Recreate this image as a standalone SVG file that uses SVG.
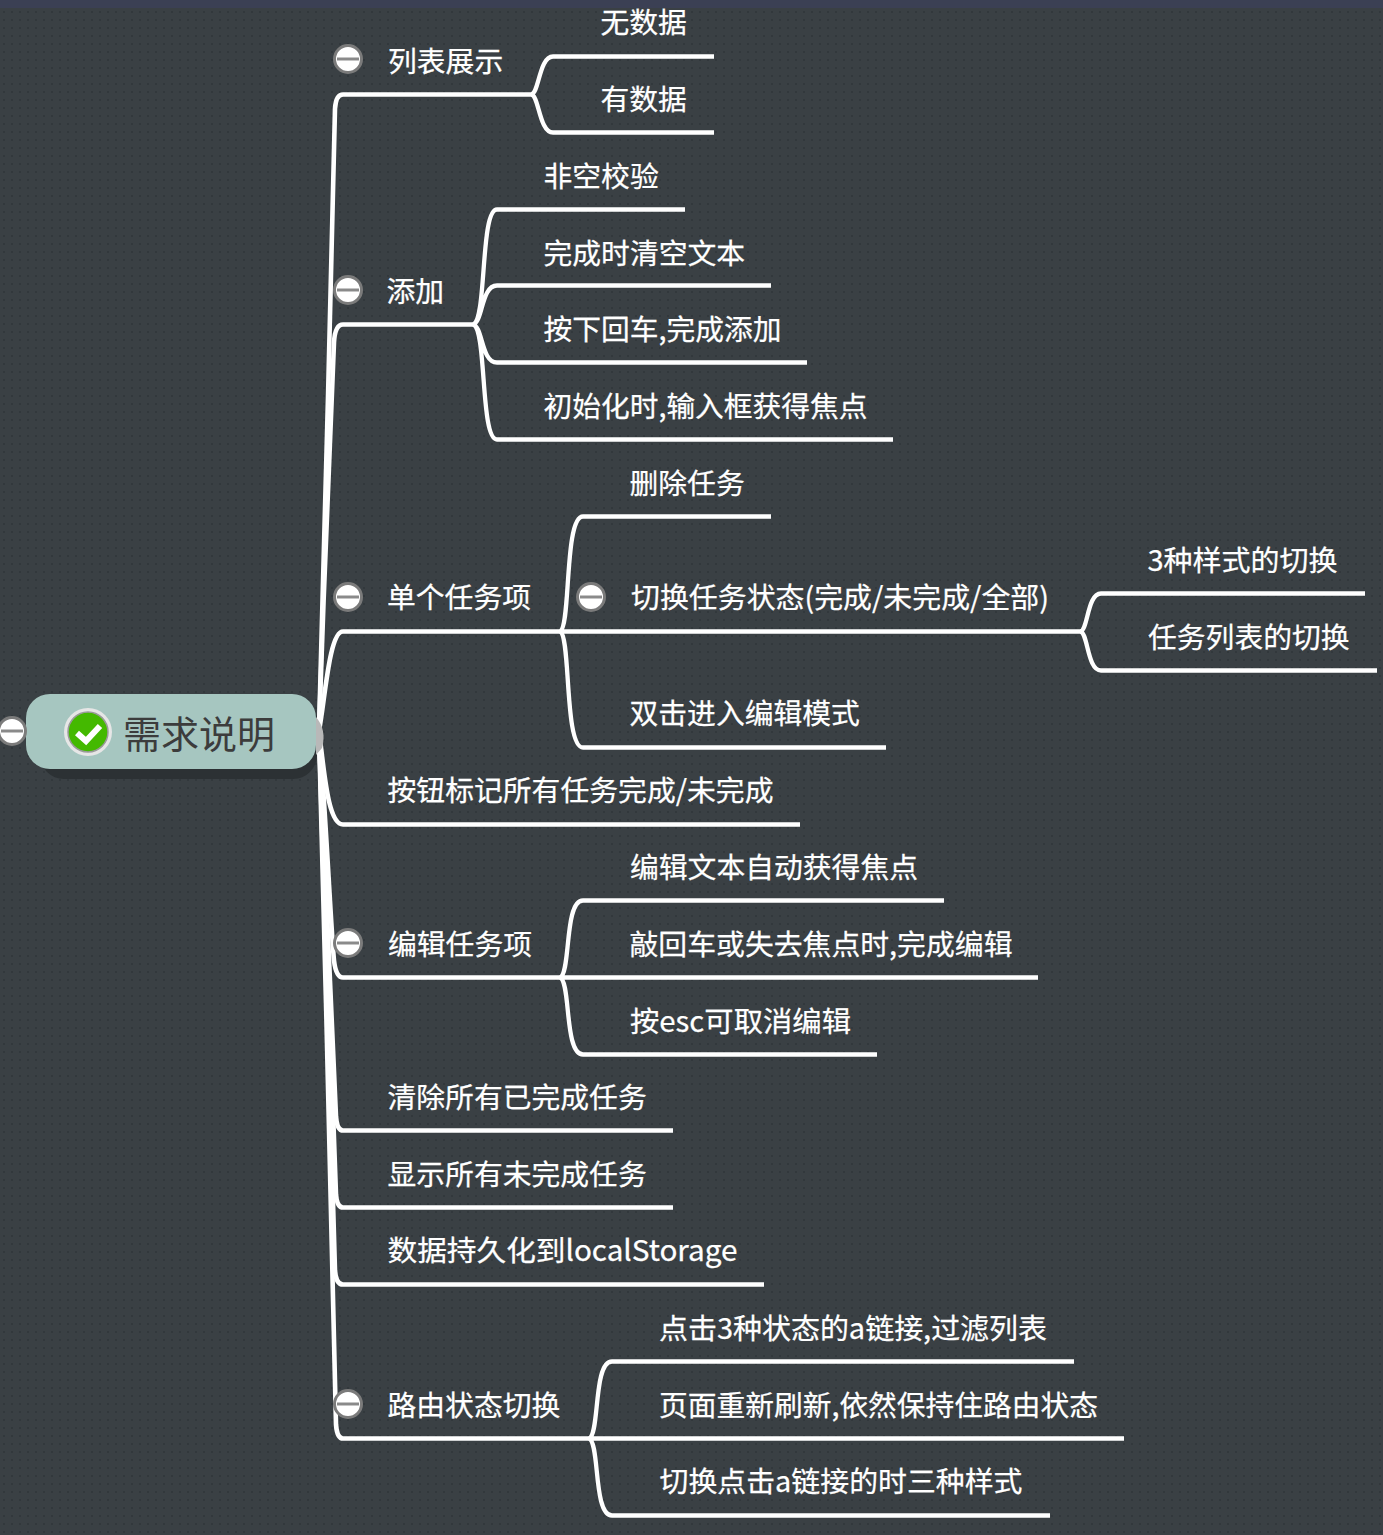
<svg xmlns="http://www.w3.org/2000/svg" width="1383" height="1535" viewBox="0 0 1383 1535">
<style>
text{font-family:"Noto Sans CJK SC","Noto Sans",sans-serif;font-size:28.8px;fill:#fff;stroke:#fff;stroke-width:.25}
.c{fill:none;stroke:#fff;stroke-width:4.3}
.t{fill:none;stroke:#fff;stroke-width:4.6}
.m circle{fill:#fff;stroke:#7b7b7b;stroke-width:3}
.m line{stroke:#8a8a8a;stroke-width:3}
</style>
<defs>
<pattern id="dots" width="8" height="8" patternUnits="userSpaceOnUse"><rect width="8" height="8" fill="#3a4044"/><rect x="3" y="3" width="2" height="2" fill="#32383c"/></pattern>
<g id="minus" class="m"><circle r="13.5"/><line x1="-11" x2="11"/></g>
</defs>
<rect width="1383" height="1535" fill="url(#dots)"/>
<rect width="1383" height="8" fill="#3b4054"/>
<g id="connectors" transform="translate(0 .5)">
<path class="t" d="M319 730C325 550 330 300 335 108Q336 94 343 94L532 94"/>
<path class="c" d="M531 94C539 94 539 56 553 56L714 56M531 94C539 94 539 132 553 132L714 132"/>
<path class="t" d="M319 730C323 600 330 450 334 342Q335 324 343 324L474 324"/>
<path class="c" d="M473 324C487 320 480 209 497 209L685 209M473 324C483 322 481 285 497 285L771 285M473 324C483 326 481 362 497 362L807 362M473 324C487 328 480 439 497 439L893 439"/>
<path class="t" d="M319 730C325 700 329 631 343 631L561 631"/>
<path class="c" d="M560 631C571 627 564 516 583 516L771 516M560 631L1081 631M560 631C571 635 564 747 583 747L886 747"/>
<path class="c" d="M1080 631C1088 631 1087 593 1101 593L1365 593M1080 631C1088 631 1087 670 1101 670L1377 670"/>
<path class="t" d="M319 732C324 765 327 824 343 824L800 824"/>
<path class="t" d="M319 732C325 800 331 930 334 960Q336 977 343 977L561 977"/>
<path class="c" d="M560 977C571 973 564 900 583 900L944 900M560 977L1038 977M560 977C571 981 564 1054 583 1054L877 1054"/>
<path class="t" d="M319 732C326 900 333 1060 336 1116Q337 1130 343 1130L673 1130"/>
<path class="t" d="M319 732C326 900 332 1100 336 1194Q337 1207 343 1207L673 1207"/>
<path class="t" d="M319 732C325 920 332 1150 335 1270Q336 1284 343 1284L764 1284"/>
<path class="t" d="M319 732C325 950 332 1250 336 1424Q337 1438 343 1438L590 1438"/>
<path class="c" d="M589 1438C600 1434 593 1361 612 1361L1074 1361M589 1438L1124 1438M589 1438C600 1442 593 1515 612 1515L1050 1515"/>
</g>
<g id="root">
<rect x="40" y="705" width="277" height="74" rx="24" fill="#2c3134"/>
<path d="M316 717Q327 730 322 748L316 755Z" fill="#b8b8b8"/>
<rect x="26" y="694" width="290" height="75" rx="24" fill="#a6c6c0"/>
<circle cx="88" cy="732" r="24" fill="#e6e6e6"/>
<circle cx="88" cy="732" r="20" fill="#44b900" stroke="#9a9a9a" stroke-width="1.5"/>
<path d="M77 733L86 741L100 726" fill="none" stroke="#fff" stroke-width="6"/>
<text x="123" y="748" style="font-size:38px;fill:#3c3c3c;stroke:none">需求说明</text>
<use href="#minus" x="12" y="731"/>
</g>
<g id="n1"><use href="#minus" x="348" y="59"/><text x="388" y="72">列表展示</text></g>
<g id="n1a"><text x="600.5" y="33">无数据</text></g>
<g id="n1b"><text x="600.5" y="110">有数据</text></g>
<g id="n2"><use href="#minus" x="348" y="290"/><text x="386.5" y="302">添加</text></g>
<g id="n2a"><text x="543.500" y="187">非空校验</text></g>
<g id="n2b"><text x="543.500" y="264">完成时清空文本</text></g>
<g id="n2c"><text x="543.500" y="340" textLength="238" lengthAdjust="spacingAndGlyphs">按下回车,完成添加</text></g>
<g id="n2d"><text x="543.500" y="417" textLength="324" lengthAdjust="spacingAndGlyphs">初始化时,输入框获得焦点</text></g>
<g id="n3"><use href="#minus" x="348" y="597"/><text x="387" y="608">单个任务项</text></g>
<g id="n3a"><text x="629.500" y="494">删除任务</text></g>
<g id="n3b"><use href="#minus" x="591" y="597"/><text x="631" y="608" textLength="418" lengthAdjust="spacingAndGlyphs">切换任务状态(完成/未完成/全部)</text></g>
<g id="n3b1"><text x="1147.500" y="571" textLength="190" lengthAdjust="spacingAndGlyphs">3种样式的切换</text></g>
<g id="n3b2"><text x="1148" y="648">任务列表的切换</text></g>
<g id="n3c"><text x="629.500" y="724">双击进入编辑模式</text></g>
<g id="n4"><text x="387.500" y="801" textLength="386" lengthAdjust="spacingAndGlyphs">按钮标记所有任务完成/未完成</text></g>
<g id="n5"><use href="#minus" x="348" y="943"/><text x="388" y="955">编辑任务项</text></g>
<g id="n5a"><text x="630" y="878">编辑文本自动获得焦点</text></g>
<g id="n5b"><text x="629.500" y="955" textLength="383" lengthAdjust="spacingAndGlyphs">敲回车或失去焦点时,完成编辑</text></g>
<g id="n5c"><text x="630" y="1032" textLength="221" lengthAdjust="spacingAndGlyphs">按esc可取消编辑</text></g>
<g id="n6"><text x="387.500" y="1108">清除所有已完成任务</text></g>
<g id="n7"><text x="387.500" y="1185">显示所有未完成任务</text></g>
<g id="n8"><text x="387.500" y="1261" textLength="350" lengthAdjust="spacingAndGlyphs">数据持久化到localStorage</text></g>
<g id="n9"><use href="#minus" x="348" y="1404"/><text x="387.500" y="1416">路由状态切换</text></g>
<g id="n9a"><text x="659" y="1339" textLength="388" lengthAdjust="spacingAndGlyphs">点击3种状态的a链接,过滤列表</text></g>
<g id="n9b"><text x="659" y="1416" textLength="439" lengthAdjust="spacingAndGlyphs">页面重新刷新,依然保持住路由状态</text></g>
<g id="n9c"><text x="659.500" y="1492" textLength="363" lengthAdjust="spacingAndGlyphs">切换点击a链接的时三种样式</text></g>
</svg>
